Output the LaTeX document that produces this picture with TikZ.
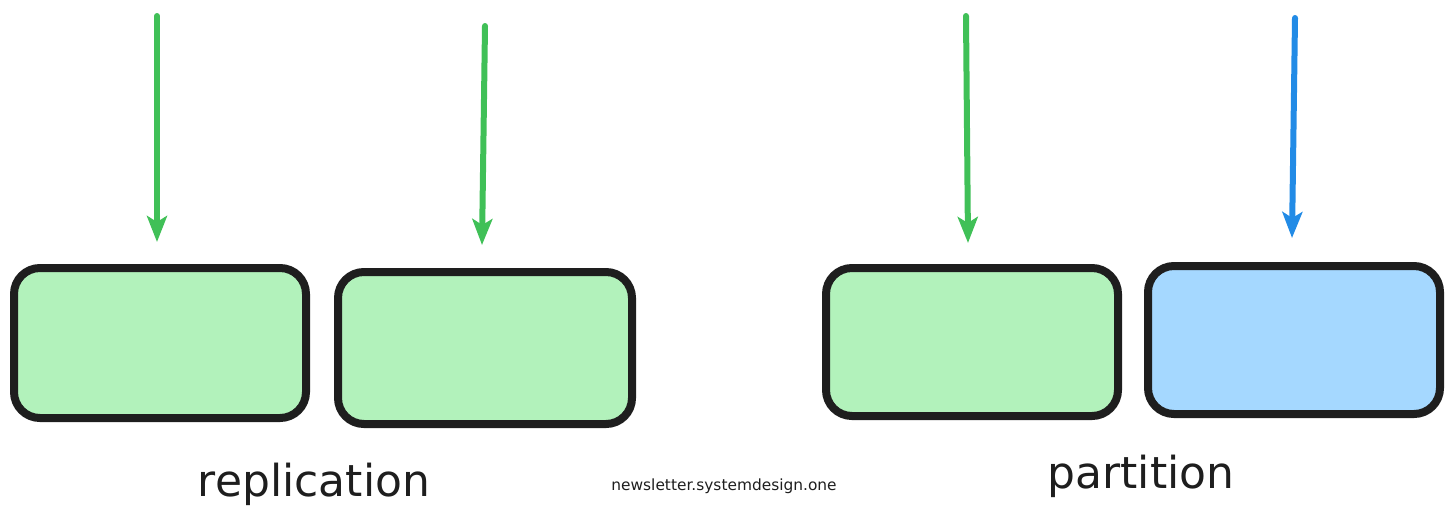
\documentclass[tikz,border=0pt]{standalone}
\usepackage{fontspec}
\setmainfont{DejaVu Sans}
\usetikzlibrary{arrows.meta}
\definecolor{strokec}{HTML}{1E1E1E}
\definecolor{greenline}{HTML}{40C057}
\definecolor{greenfill}{HTML}{B2F2BB}
\definecolor{blueline}{HTML}{228BE6}
\definecolor{bluefill}{HTML}{A5D8FF}
\begin{document}
\begin{tikzpicture}[x=0.5pt,y=-0.5pt,
  boxg/.style={draw=strokec, line width=4pt, fill=greenfill, rounded corners=13pt},
  boxb/.style={draw=strokec, line width=4pt, fill=bluefill, rounded corners=13pt},
  arrg/.style={draw=greenline, line width=3pt, line cap=round, -{Stealth[length=13pt,width=10pt,inset=3pt]}},
  arrb/.style={draw=blueline, line width=3pt, line cap=round, -{Stealth[length=13pt,width=10pt,inset=3pt]}},
  bigtxt/.style={text=strokec, font=\fontsize{22}{26}\selectfont, inner sep=0pt},
  smalltxt/.style={text=strokec, font=\fontsize{7.7}{9}\selectfont, inner sep=0pt}]
\useasboundingbox (0,0) rectangle (1456,531);
% boxes
\path[boxg] (14,268) rectangle (306,418);
\coordinate (b1) at (157,268);
\path[boxg] (338,272) rectangle (632,424);
\coordinate (b2) at (485,272);
\path[boxg] (826,268) rectangle (1118,416);
\coordinate (b3) at (967,268);
\path[boxb] (1148,266) rectangle (1440,414);
\coordinate (b4) at (1292,266);
% arrow starts and ends
\coordinate (s1) at (157,16);
\coordinate (e1) at (157,242);
\coordinate (s2) at (485,26);
\coordinate (e2) at (482,245);
\coordinate (s3) at (966,16);
\coordinate (e3) at (968,243);
\coordinate (s4) at (1295,18);
\coordinate (e4) at (1292,238);
\draw[arrg] (s1) -- (e1);
\draw[arrg] (s2) -- (e2);
\draw[arrg] (s3) -- (e3);
\draw[arrb] (s4) -- (e4);
% labels
\node[bigtxt] (l1) at (314,484) {replication};
\node[bigtxt] (l2) at (1141,476) {partition};
\node[smalltxt] (l3) at (724,486) {newsletter.systemdesign.one};
\end{tikzpicture}
\end{document}
